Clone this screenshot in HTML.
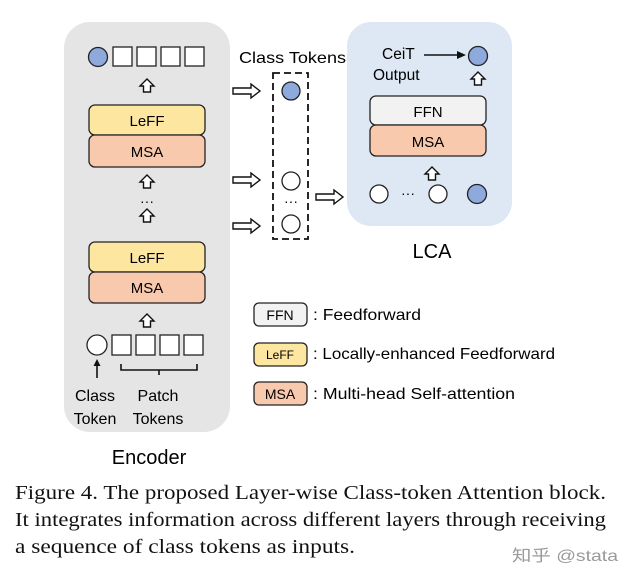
<!DOCTYPE html>
<html><head><meta charset="utf-8"><style>
html,body{margin:0;padding:0;background:#fff;}
svg text{font-family:"Liberation Sans","DejaVu Sans",sans-serif;}
.cap{font-family:"Liberation Serif",serif;font-size:20px;fill:#111;}
</style></head><body>
<svg width="634" height="581" viewBox="0 0 634 581" xmlns="http://www.w3.org/2000/svg">
<defs>
<g id="up"><polygon points="0,0 7,7 3.5,7 3.5,13 -3.5,13 -3.5,7 -7,7" fill="#fff" stroke="#111" stroke-width="1.4"/></g>
<g id="rt"><polygon points="0,-3 18,-3 18,-7 27,0 18,7 18,3 0,3" fill="#fff" stroke="#111" stroke-width="1.4"/></g>
</defs>
<rect x="64" y="22" width="166" height="410" rx="26" fill="#e5e5e5"/>
<rect x="347" y="22" width="165" height="204" rx="24" fill="#dde8f4"/>

<circle cx="98" cy="57" r="9.5" fill="#8ea9db" stroke="#222" stroke-width="1.3"/>
<g fill="#fff" stroke="#222" stroke-width="1.3">
<rect x="113" y="47" width="19" height="19"/><rect x="137" y="47" width="19" height="19"/><rect x="161" y="47" width="19" height="19"/><rect x="185" y="47" width="19" height="19"/>
</g>
<use href="#up" x="147" y="79"/>
<rect x="89" y="105" width="116" height="30" rx="6" fill="#fde6a0" stroke="#222" stroke-width="1.3"/>
<rect x="89" y="135" width="116" height="32" rx="6" fill="#f8c9ac" stroke="#222" stroke-width="1.3"/>
<text x="147" y="126" font-size="15" text-anchor="middle">LeFF</text>
<text x="147" y="157" font-size="15" text-anchor="middle">MSA</text>
<use href="#up" x="147" y="175"/>
<text x="147" y="206" font-size="14" text-anchor="middle">···</text>
<use href="#up" x="147" y="209"/>
<rect x="89" y="242" width="116" height="30" rx="6" fill="#fde6a0" stroke="#222" stroke-width="1.3"/>
<rect x="89" y="272" width="116" height="31" rx="6" fill="#f8c9ac" stroke="#222" stroke-width="1.3"/>
<text x="147" y="263" font-size="15" text-anchor="middle">LeFF</text>
<text x="147" y="293" font-size="15" text-anchor="middle">MSA</text>
<use href="#up" x="147" y="314"/>
<circle cx="97" cy="345" r="10" fill="#fff" stroke="#222" stroke-width="1.3"/>
<g fill="#fff" stroke="#222" stroke-width="1.3">
<rect x="112" y="335" width="19" height="20"/><rect x="136" y="335" width="19" height="20"/><rect x="160" y="335" width="19" height="20"/><rect x="184" y="335" width="19" height="20"/>
</g>
<line x1="97" y1="378" x2="97" y2="363" stroke="#111" stroke-width="1.6"/>
<polygon points="97,359 93.5,366 100.5,366" fill="#111"/>
<path d="M121,364 V370 H197 V364 M159,370 V375" fill="none" stroke="#111" stroke-width="1.6"/>
<text x="95" y="401" font-size="16" text-anchor="middle">Class</text>
<text x="95" y="424" font-size="16" text-anchor="middle">Token</text>
<text x="158" y="401" font-size="16" text-anchor="middle">Patch</text>
<text x="158" y="424" font-size="16" text-anchor="middle">Tokens</text>
<text x="149" y="464" font-size="20" text-anchor="middle">Encoder</text>

<text x="239" y="63" font-size="16" textLength="107" lengthAdjust="spacingAndGlyphs">Class Tokens</text>
<rect x="273" y="73" width="35" height="166" fill="none" stroke="#111" stroke-width="1.8" stroke-dasharray="7,4"/>
<circle cx="291" cy="91" r="9" fill="#8ea9db" stroke="#222" stroke-width="1.3"/>
<circle cx="291" cy="181" r="9" fill="#fff" stroke="#222" stroke-width="1.3"/>
<circle cx="291" cy="224" r="9" fill="#fff" stroke="#222" stroke-width="1.3"/>
<text x="291" y="206" font-size="14" text-anchor="middle">···</text>
<use href="#rt" x="233" y="91"/>
<use href="#rt" x="233" y="180"/>
<use href="#rt" x="233" y="226"/>
<use href="#rt" x="316" y="197"/>

<text x="382" y="59" font-size="15.5">CeiT</text>
<text x="373" y="80" font-size="15.5">Output</text>
<line x1="424" y1="55" x2="458" y2="55" stroke="#111" stroke-width="1.6"/>
<polygon points="466,55 457,51 457,59" fill="#111"/>
<circle cx="478" cy="56" r="9.5" fill="#8ea9db" stroke="#222" stroke-width="1.3"/>
<use href="#up" x="478" y="72"/>
<rect x="370" y="96" width="116" height="29" rx="6" fill="#f2f2f2" stroke="#222" stroke-width="1.3"/>
<rect x="370" y="125" width="116" height="31" rx="6" fill="#f8c9ac" stroke="#222" stroke-width="1.3"/>
<text x="428" y="117" font-size="15" text-anchor="middle">FFN</text>
<text x="428" y="147" font-size="15" text-anchor="middle">MSA</text>
<use href="#up" x="432" y="167"/>
<circle cx="379" cy="194" r="9" fill="#fff" stroke="#222" stroke-width="1.3"/>
<circle cx="438" cy="194" r="9" fill="#fff" stroke="#222" stroke-width="1.3"/>
<circle cx="477" cy="194" r="9.5" fill="#8ea9db" stroke="#222" stroke-width="1.3"/>
<text x="408" y="198" font-size="14" text-anchor="middle">···</text>
<text x="432" y="258" font-size="20" text-anchor="middle">LCA</text>

<rect x="254" y="303" width="53" height="23" rx="5" fill="#f2f2f2" stroke="#222" stroke-width="1.3"/>
<text x="280" y="320" font-size="14" text-anchor="middle">FFN</text>
<text x="313" y="320" font-size="16" textLength="108" lengthAdjust="spacingAndGlyphs">: Feedforward</text>
<rect x="254" y="343" width="53" height="23" rx="5" fill="#fde6a0" stroke="#222" stroke-width="1.3"/>
<text x="280" y="359" font-size="12" text-anchor="middle">LeFF</text>
<text x="313" y="359" font-size="16" textLength="242" lengthAdjust="spacingAndGlyphs">: Locally-enhanced Feedforward</text>
<rect x="254" y="382" width="53" height="23" rx="5" fill="#f8c9ac" stroke="#222" stroke-width="1.3"/>
<text x="280" y="399" font-size="14" text-anchor="middle">MSA</text>
<text x="313" y="399" font-size="16" textLength="202" lengthAdjust="spacingAndGlyphs">: Multi-head Self-attention</text>

<text class="cap" x="15" y="499" textLength="591" lengthAdjust="spacingAndGlyphs">Figure 4. The proposed Layer-wise Class-token Attention block.</text>
<text class="cap" x="15" y="526" textLength="591" lengthAdjust="spacingAndGlyphs">It integrates information across different layers through receiving</text>
<text class="cap" x="15" y="553" textLength="340" lengthAdjust="spacingAndGlyphs">a sequence of class tokens as inputs.</text>
<text x="512" y="561" font-size="16" fill="#9a9a9a" textLength="106" lengthAdjust="spacingAndGlyphs" style="font-family:'Liberation Sans','Noto Sans CJK SC',sans-serif">知乎 @stata</text>
</svg>
</body></html>
